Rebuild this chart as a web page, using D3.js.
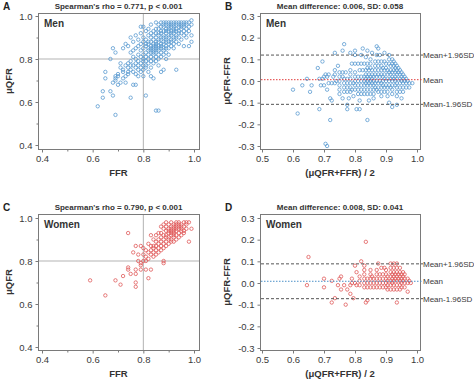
<!DOCTYPE html>
<html><head><meta charset="utf-8">
<script src="https://cdn.jsdelivr.net/npm/d3@7"></script>
<style>
body{margin:0;background:#fff}
text{font-family:"Liberation Sans",Arial,Helvetica,sans-serif}
</style>
</head><body>
<svg id="chart" width="474" height="383"></svg>
<script>
// ---------- DATA ----------
// Men: FFR levels and the µQFR values observed at each FFR level
const menFFRLevels = [0.62,0.64,0.65,0.67,0.68,0.69,0.70,0.71,0.72,0.73,0.74,0.75,0.76,0.77,0.78,0.79,0.80,0.81,0.82,0.83,0.84,0.85,0.86,0.87,0.88,0.89,0.90,0.91,0.92,0.93,0.94,0.95,0.96,0.97,0.98,0.99];
const menQFRAtLevel = [
  [0.58],
  [0.65,0.62],
  [0.74,0.71],
  [0.80,0.65],
  [0.85,0.63,0.69],
  [0.83,0.72,0.71,0.54,0.70],
  [0.68,0.73,0.72],
  [0.76,0.78,0.69],
  [0.85,0.75,0.71,0.74],
  [0.87,0.77,0.69,0.72],
  [0.86,0.78,0.74,0.76,0.73],
  [0.90,0.83,0.79,0.77,0.62,0.75],
  [0.88,0.84,0.81,0.77,0.74,0.68],
  [0.91,0.85,0.80,0.78,0.76,0.73,0.68],
  [0.89,0.86,0.82,0.79,0.77,0.75,0.72],
  [0.95,0.92,0.87,0.84,0.81,0.78,0.76,0.74],
  [0.95,0.90,0.88,0.85,0.82,0.80,0.79,0.77,0.75,0.72],
  [0.93,0.89,0.87,0.86,0.83,0.81,0.79,0.77,0.76,0.63],
  [0.94,0.91,0.88,0.87,0.85,0.84,0.82,0.80,0.78,0.74],
  [0.96,0.92,0.90,0.88,0.86,0.85,0.84,0.83,0.81,0.79,0.76,0.72],
  [0.93,0.91,0.89,0.87,0.86,0.85,0.84,0.83,0.82,0.80,0.78,0.71],
  [0.97,0.94,0.92,0.90,0.88,0.87,0.86,0.85,0.84,0.83,0.81,0.79,0.56],
  [0.96,0.94,0.92,0.91,0.89,0.88,0.86,0.85,0.84,0.82,0.80,0.77,0.56],
  [0.97,0.95,0.93,0.92,0.90,0.89,0.87,0.86,0.85,0.83,0.81,0.74],
  [0.97,0.96,0.95,0.93,0.91,0.90,0.88,0.87,0.85,0.84,0.82,0.75],
  [0.97,0.96,0.94,0.93,0.92,0.90,0.89,0.88,0.86,0.85,0.83,0.80],
  [0.97,0.96,0.95,0.94,0.93,0.91,0.90,0.88,0.87,0.85,0.82],
  [0.97,0.96,0.95,0.93,0.92,0.91,0.89,0.88,0.86],
  [0.97,0.96,0.95,0.94,0.93,0.92,0.90,0.89,0.87,0.85],
  [0.97,0.96,0.94,0.93,0.91,0.90,0.88,0.75],
  [0.97,0.96,0.95,0.93,0.92,0.90,0.87],
  [0.97,0.96,0.95,0.94,0.92,0.89],
  [0.97,0.96,0.95,0.93,0.91,0.86],
  [0.97,0.96,0.94,0.92,0.90],
  [0.97,0.95,0.93,0.86],
  [0.98,0.96,0.91,0.88]
];
// Women
const womenFFRLevels = [0.59,0.65,0.69,0.71,0.72,0.74,0.75,0.76,0.77,0.78,0.79,0.80,0.81,0.82,0.83,0.84,0.85,0.86,0.87,0.88,0.89,0.90,0.91,0.92,0.93,0.94,0.95,0.96,0.97,0.98,0.99];
const womenQFRAtLevel = [
  [0.71],
  [0.64],
  [0.71],
  [0.69],
  [0.73],
  [0.93,0.77,0.76],
  [0.74],
  [0.84],
  [0.87,0.76,0.74,0.70,0.68],
  [0.80,0.83],
  [0.87,0.79,0.78,0.76],
  [0.86,0.83,0.80],
  [0.85,0.82,0.80,0.76],
  [0.88,0.84,0.81,0.72],
  [0.92,0.87,0.85,0.83,0.76],
  [0.90,0.87,0.86,0.84,0.82],
  [0.92,0.89,0.87,0.85,0.83],
  [0.93,0.90,0.88,0.86,0.84],
  [0.96,0.93,0.91,0.89,0.87,0.85],
  [0.97,0.95,0.92,0.90,0.88,0.86,0.80,0.79],
  [0.98,0.96,0.94,0.92,0.91,0.89,0.87],
  [0.97,0.95,0.94,0.93,0.91,0.90,0.88],
  [0.98,0.96,0.95,0.94,0.93,0.92,0.90,0.89],
  [0.97,0.96,0.95,0.94,0.93,0.92,0.91,0.89],
  [0.98,0.97,0.96,0.95,0.94,0.92,0.90],
  [0.98,0.97,0.96,0.95,0.93,0.91],
  [0.97,0.96,0.95,0.94,0.92],
  [0.98,0.96,0.94,0.93],
  [0.98,0.97,0.95],
  [0.98,0.89],
  [0.95]
];
// Summary statistics as printed
const menStats = {rho:"0.771", p:"0.001", meanDiff:0.006, sd:0.058};
const womenStats = {rho:"0.790", p:"0.001", meanDiff:0.008, sd:0.041};
const corrTicks = [0.4,0.6,0.8,1.0];
const corrMinor = [0.5,0.7,0.9];
const baXTicks = [0.5,0.6,0.7,0.8,0.9,1.0];
const baYTicks = [-0.3,-0.2,-0.1,0,0.1,0.2,0.3];

// ---------- HELPERS ----------
function flatten(levels, vals){
  const out=[];
  levels.forEach((f,i)=>vals[i].forEach(q=>out.push({ffr:f,qfr:q})));
  return out;
}
const men = flatten(menFFRLevels, menQFRAtLevel);
const women = flatten(womenFFRLevels, womenQFRAtLevel);

const svg = d3.select("#chart");
const fmt = d => (Math.abs(d)<1e-9?0:d).toFixed(1);
const AX = "#7a7a7a", TXT = "#3a3a3a";

function frame(g, L, R, T, B){
  g.append("rect").attr("x",L+0.5).attr("y",T+0.5).attr("width",R-L).attr("height",B-T)
    .attr("fill","none").attr("stroke",AX).attr("stroke-width",1);
}
function styleAxis(sel){
  sel.select(".domain").remove();
  sel.selectAll(".tick line").attr("stroke",AX);
  sel.selectAll(".tick text").attr("fill",TXT).style("font-size","9.5px")
     .style("font-family",'"Liberation Sans",Arial,sans-serif');
}

function panel(opts){
  const {L,R,T,B,xs,ys,xTicks,yTicks,xMinor,yMinor,letter,title,tag,xLabel,yLabel,yLabelX} = opts;
  const g = svg.append("g");
  // axes
  const ax = g.append("g").attr("transform",`translate(0,${B+0.5})`)
    .call(d3.axisBottom(xs).tickValues(xTicks).tickSize(3).tickPadding(3).tickFormat(fmt));
  styleAxis(ax);
  const ay = g.append("g").attr("transform",`translate(${L+0.5},0)`)
    .call(d3.axisLeft(ys).tickValues(yTicks).tickSize(3).tickPadding(3).tickFormat(fmt));
  styleAxis(ay);
  if(xMinor){
    const m = g.append("g").attr("transform",`translate(0,${B+0.5})`)
      .call(d3.axisBottom(xs).tickValues(xMinor).tickSize(2).tickFormat(""));
    styleAxis(m);
  }
  if(yMinor){
    const m = g.append("g").attr("transform",`translate(${L+0.5},0)`)
      .call(d3.axisLeft(ys).tickValues(yMinor).tickSize(2).tickFormat(""));
    styleAxis(m);
  }
  frame(g,L,R,T,B);
  // texts
  g.append("text").attr("x",L-35).attr("y",T-3).attr("font-size",10).attr("font-weight","bold")
    .attr("fill","#222").text(letter);
  g.append("text").attr("x",(L+R)/2).attr("y",T-4).attr("text-anchor","middle")
    .attr("font-size",8).attr("font-weight","bold").attr("fill","#333").text(title);
  g.append("text").attr("x",L+6).attr("y",T+14).attr("font-size",10).attr("font-weight","bold")
    .attr("fill","#333").text(tag);
  g.append("text").attr("x",(L+R)/2).attr("y",B+27).attr("text-anchor","middle")
    .attr("font-size",9.5).attr("font-weight","bold").attr("fill","#333").text(xLabel);
  g.append("text").attr("transform",`translate(${yLabelX},${(T+B)/2}) rotate(-90)`)
    .attr("text-anchor","middle").attr("font-size",9.5).attr("font-weight","bold")
    .attr("fill","#333").text(yLabel);
  return g;
}

function corrPanel(data, stats, L,R,T,B, letter, tag, color, dyTick){
  const xs = d3.scaleLinear().domain([0.4,1.0]).range([42,194]);
  const ys = d3.scaleLinear().domain([0.4,1.0]).range([145+dyTick,16+dyTick]);
  const g = panel({L,R,T,B,xs,ys,xTicks:corrTicks,yTicks:corrTicks,xMinor:corrMinor,yMinor:corrMinor,
    letter, title:`Spearman's rho = ${stats.rho}, p < ${stats.p}`, tag, xLabel:"FFR", yLabel:"\u03bcQFR", yLabelX:12});
  // reference lines
  g.append("line").attr("x1",xs(0.8)).attr("x2",xs(0.8)).attr("y1",T+1).attr("y2",B)
    .attr("stroke","#b3b3b3").attr("stroke-width",1);
  g.append("line").attr("x1",L+1).attr("x2",R).attr("y1",ys(0.8)).attr("y2",ys(0.8))
    .attr("stroke","#b3b3b3").attr("stroke-width",1);
  g.append("g").selectAll("circle").data(data).join("circle")
    .attr("cx",d=>xs(d.ffr)).attr("cy",d=>ys(d.qfr)).attr("r",1.7)
    .attr("fill","none").attr("stroke",color).attr("stroke-width",0.8);
}

function baPanel(data, stats, L,R,T,B, letter, tag, color, meanColor, dyTick){
  const xs = d3.scaleLinear().domain([0.5,1.0]).range([262,417]);
  const ys = d3.scaleLinear().domain([-0.3,0.3]).range([146+dyTick,16+dyTick]);
  const g = panel({L,R,T,B,xs,ys,xTicks:baXTicks,yTicks:baYTicks,
    letter, title:`Mean difference: ${stats.meanDiff.toFixed(3)}, SD: ${stats.sd.toFixed(3)}`, tag,
    xLabel:"(\u03bcQFR+FFR) / 2", yLabel:"\u03bcQFR-FFR", yLabelX:230});
  const up = stats.meanDiff + 1.96*stats.sd, lo = stats.meanDiff - 1.96*stats.sd;
  const lines = [
    {v:up, c:"#555", dash:"3,2", label:"Mean+1.96SD"},
    {v:stats.meanDiff, c:meanColor, dash:"1.5,1.5", label:"Mean"},
    {v:lo, c:"#555", dash:"3,2", label:"Mean-1.96SD"}
  ];
  g.append("g").selectAll("circle").data(data).join("circle")
    .attr("cx",d=>xs((d.ffr+d.qfr)/2)).attr("cy",d=>ys(d.qfr-d.ffr)).attr("r",1.7)
    .attr("fill","none").attr("stroke",color).attr("stroke-width",0.8);
  lines.forEach(l=>{
    g.append("line").attr("x1",L+1).attr("x2",R+3).attr("y1",ys(l.v)).attr("y2",ys(l.v))
      .attr("stroke",l.c).attr("stroke-width",1).attr("stroke-dasharray",l.dash);
    g.append("text").attr("x",R+3).attr("y",ys(l.v)+3).attr("font-size",8).attr("fill",TXT).text(l.label);
  });
}

corrPanel(men, menStats, 38,199,13,149, "A", "Men", "#5b9bd0", 0);
baPanel(men, menStats, 260,420,13,149, "B", "Men", "#5b9bd0", "#e03a3a", 0);
corrPanel(women, womenStats, 38,199,214,350, "C", "Women", "#e05a5a", 202);
baPanel(women, womenStats, 260,420,214,350, "D", "Women", "#e05a5a", "#4a90c8", 202);
</script>
</body></html>
